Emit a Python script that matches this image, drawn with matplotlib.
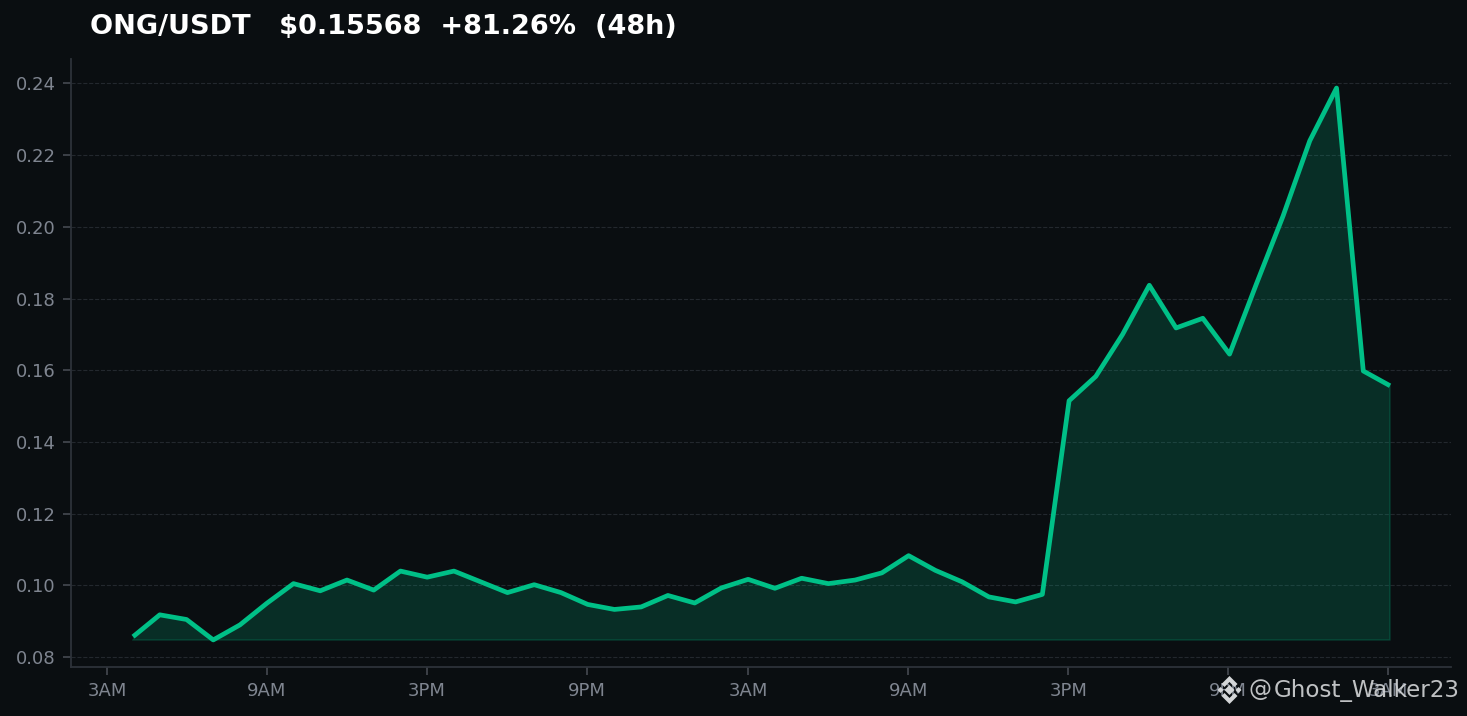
import matplotlib
matplotlib.use("Agg")
import matplotlib.pyplot as plt
from matplotlib.patches import Polygon
import numpy as np

prices = [0.0857,0.0918,0.0905,0.0848,0.0890,0.0950,0.1005,0.0985,0.1015,0.0987,0.1040,0.1023,0.1040,0.1010,0.0980,0.1002,0.0980,0.0947,0.0933,0.0940,0.0972,0.0951,0.0993,0.1017,0.0992,0.1020,0.1005,0.1015,0.1035,0.1083,0.1042,0.1010,0.0968,0.0954,0.0975,0.1515,0.1583,0.1700,0.1837,0.1718,0.1745,0.1645,0.1840,0.2030,0.2240,0.2387,0.1598,0.15568]
x = np.arange(len(prices))
tick_labels = ["3AM","9AM","3PM","9PM","3AM","9AM","3PM","9PM","3AM"]
tick_pos = [-0.97,5.01,10.99,16.98,23.0,28.98,34.97,40.95,46.93]
yticks = [0.08,0.10,0.12,0.14,0.16,0.18,0.20,0.22,0.24]
BG = "#0a0e11"
GREEN = "#00c087"
W, H = 1467, 716

fig = plt.figure(figsize=(W/100, H/100), dpi=100, facecolor=BG)
ax = fig.add_axes([71/W, 1-667/H, (1451-71)/W, (667-59)/H], facecolor=BG)
ax.fill_between(x, prices, min(prices), facecolor=GREEN, alpha=0.18, edgecolor="none", zorder=2)
base = min(prices)
ax.plot([x[0], x[-1], x[-1]], [base, base, prices[-1]], color=GREEN, alpha=0.2, lw=1.2, zorder=2)
ax.plot(x, prices, color=GREEN, lw=3.4, solid_joinstyle="round", solid_capstyle="butt", zorder=3)
ax.set_xticks(tick_pos, tick_labels)
ax.set_yticks(yticks, [f"{v:.2f}" for v in yticks])
ax.set_xlim(-2.319, 49.28)
ax.set_ylim(0.07725, 0.2468)
ax.grid(axis="y", color="#23282e", ls="--", lw=0.8)
ax.set_axisbelow(True)
for s in ("top","right"):
    ax.spines[s].set_visible(False)
for s in ("left","bottom"):
    ax.spines[s].set_color("#2d3239")
    ax.spines[s].set_linewidth(1.3)
ax.tick_params(color="#4a4f57", labelcolor="#7f8590", labelsize=13, length=5.5, width=1.1, pad=5)
ax.tick_params(axis="y", pad=5.5)
fig.text(90/W, 1-27.5/H, "ONG/USDT   $0.15568  +81.26%  (48h)", color="white", fontsize=19.5, fontweight="bold", va="center")

# watermark
WM = "#d4d6d8"
fig.text(1274/W, 1-691/H, "Ghost_Walker23", color=WM, fontsize=16.6, va="center", alpha=0.9, zorder=10)
fig.text(1248/W, 1-690/H, "@", color=WM, fontsize=16.6, va="center", alpha=0.9, zorder=10)
cx, cy = 1229.5, 690
shapes = [
    [(0,-5),(5,0),(0,5),(-5,0)],
    [(-12,0),(-9,-3),(-6,0),(-9,3)],
    [(12,0),(9,-3),(6,0),(9,3)],
    [(0,-14),(8,-6),(5,-3),(0,-8),(-5,-3),(-8,-6)],
    [(0,14),(8,6),(5,3),(0,8),(-5,3),(-8,6)],
]
for shape in shapes:
    pts = [((cx+a)/W, 1-(cy+b)/H) for a, b in shape]
    fig.add_artist(Polygon(pts, closed=True, transform=fig.transFigure, facecolor=WM, edgecolor="none", zorder=10))
fig.savefig("out.png", dpi=100, facecolor=BG)
